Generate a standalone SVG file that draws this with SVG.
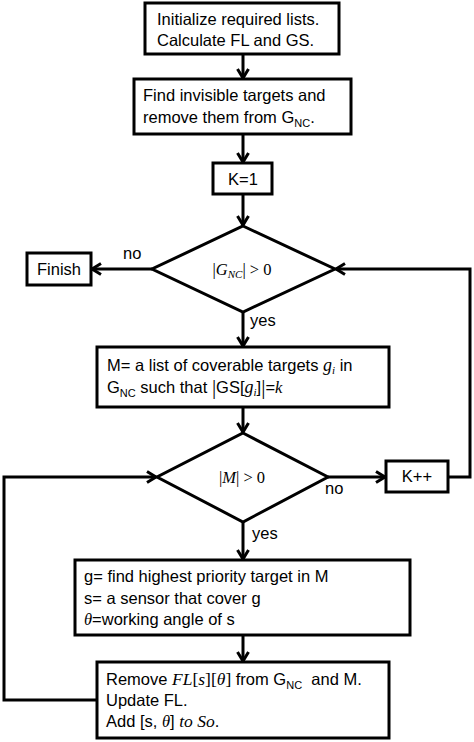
<svg xmlns="http://www.w3.org/2000/svg" width="474" height="742" viewBox="0 0 474 742">
<style>
.box{fill:#fff;stroke:#000;stroke-width:3}
.con{fill:none;stroke:#000;stroke-width:3}
text{font-family:"Liberation Sans",Arial,sans-serif;font-size:16.5px;fill:#000}
.m{font-family:"Liberation Serif","Times New Roman",serif;font-style:italic}
.mu{font-family:"Liberation Serif","Times New Roman",serif}
.sub{font-size:11px}
.c{text-anchor:middle}
</style>
<defs>
<marker id="ah" markerUnits="userSpaceOnUse" markerWidth="14" markerHeight="14" refX="10" refY="6" orient="auto" viewBox="0 0 14 12">
<path d="M1,0.5 L10,6 L1,11.5" fill="none" stroke="#000" stroke-width="3"/>
</marker>
</defs>
<g id="connectors">
<path class="con" d="M243,54 V78" marker-end="url(#ah)"/>
<path class="con" d="M243,134 V162" marker-end="url(#ah)"/>
<path class="con" d="M243,194 V225" marker-end="url(#ah)"/>
<path class="con" d="M152,269 H92" marker-end="url(#ah)"/>
<path class="con" d="M243,312 V346" marker-end="url(#ah)"/>
<path class="con" d="M243,407 V432" marker-end="url(#ah)"/>
<path class="con" d="M328,477 H385" marker-end="url(#ah)"/>
<path class="con" d="M448,477 H470 V269 H336" marker-end="url(#ah)"/>
<path class="con" d="M243,522 V559" marker-end="url(#ah)"/>
<path class="con" d="M243,635 V661" marker-end="url(#ah)"/>
<path class="con" d="M97,700 H4 V477 H156" marker-end="url(#ah)"/>
<text x="123" y="259">no</text>
<text x="250" y="326">yes</text>
<text x="325" y="494">no</text>
<text x="252" y="539">yes</text>
</g>
<g id="init">
<rect class="box" x="145" y="3" width="194" height="51"/>
<text x="157" y="25">Initialize required lists.</text>
<text x="157" y="46">Calculate FL and GS.</text>
</g>
<g id="invisible">
<rect class="box" x="134" y="79" width="217" height="55"/>
<text x="143" y="101">Find invisible targets and</text>
<text x="143" y="123">remove them from G<tspan class="sub" dy="4">NC</tspan><tspan dy="-4">.</tspan></text>
</g>
<g id="k1">
<rect class="box" x="213" y="163" width="59" height="31"/>
<text class="c" x="243" y="185">K=1</text>
</g>
<g id="dec1">
<polygon class="box" points="243,226 335,269 243,312 152,269"/>
<text class="c" x="242" y="275" font-size="17.5"><tspan class="mu">|</tspan><tspan class="m">G</tspan><tspan class="m sub" dy="3">NC</tspan><tspan class="mu" dy="-3">| &gt; 0</tspan></text>
</g>
<g id="finish">
<rect class="box" x="27" y="253" width="64" height="32"/>
<text class="c" x="59" y="275">Finish</text>
</g>
<g id="listM">
<rect class="box" x="97" y="347" width="292" height="60"/>
<text x="107" y="371">M= a list of coverable targets <tspan class="m" font-size="18">g</tspan><tspan class="m sub" dy="3">i</tspan><tspan dy="-3"> in</tspan></text>
<text x="107" y="393">G<tspan class="sub" dy="4">NC</tspan><tspan dy="-4"> such that </tspan><tspan class="mu" font-size="21" dy="1">|</tspan><tspan dy="-1">GS[</tspan><tspan class="m" font-size="18">g</tspan><tspan class="m sub" dy="3">i</tspan><tspan dy="-3">]</tspan><tspan class="mu" font-size="21" dy="1">|</tspan><tspan dy="-1">=</tspan><tspan class="m">k</tspan></text>
</g>
<g id="dec2">
<polygon class="box" points="243,433 328,477 243,522 157,477"/>
<text class="c mu" x="242" y="483" font-size="18"><tspan>|</tspan><tspan class="m">M</tspan><tspan>| &gt; 0</tspan></text>
</g>
<g id="kpp">
<rect class="box" x="386" y="461" width="62" height="31"/>
<text class="c" x="417" y="482">K++</text>
</g>
<g id="find">
<rect class="box" x="75" y="560" width="335" height="75"/>
<text x="84" y="582">g= find highest priority target in M</text>
<text x="84" y="604">s= a sensor that cover g</text>
<text x="84" y="625"><tspan class="m">θ</tspan>=working angle of s</text>
</g>
<g id="remove">
<rect class="box" x="97" y="662" width="292" height="76"/>
<text x="106" y="685" xml:space="preserve">Remove <tspan class="m" font-size="17.5">FL</tspan><tspan class="mu" font-size="17.5">[</tspan><tspan class="m" font-size="17.5">s</tspan><tspan class="mu" font-size="17.5">][</tspan><tspan class="m" font-size="17.5">θ</tspan><tspan class="mu" font-size="17.5">]</tspan> from G<tspan class="sub" dy="4">NC</tspan><tspan dy="-4">  and M.</tspan></text>
<text x="106" y="706">Update FL.</text>
<text x="106" y="727">Add [s, <tspan class="m">θ</tspan>] <tspan class="m" font-size="17.5">to So</tspan>.</text>
</g>
</svg>
